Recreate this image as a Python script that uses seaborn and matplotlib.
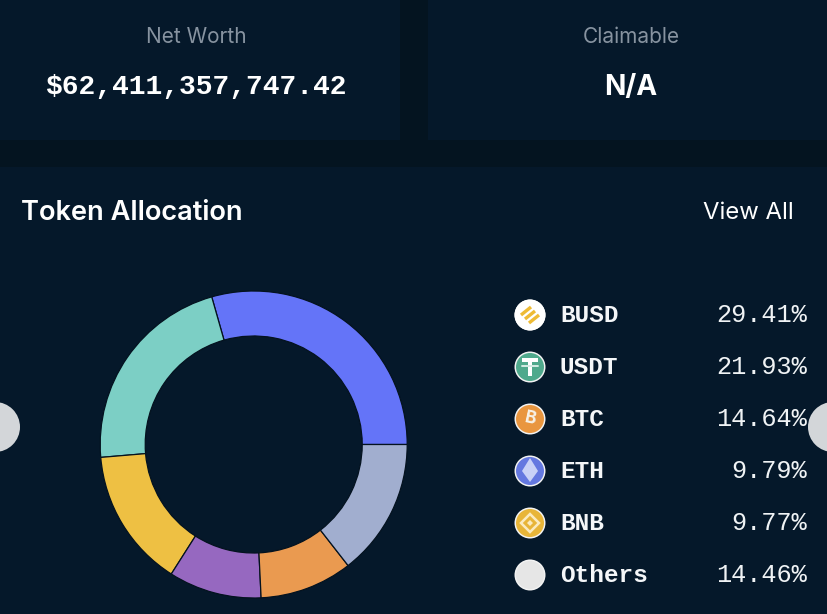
import matplotlib
matplotlib.use("Agg")
import matplotlib.pyplot as plt
from matplotlib.patches import Circle, Rectangle, Polygon
import seaborn as sns

tokens = ["BUSD", "USDT", "BTC", "ETH", "BNB", "Others"]
shares = [29.41, 21.93, 14.64, 9.79, 9.77, 14.46]
share_labels = ["29.41%", "21.93%", "14.64%", "9.79%", "9.77%", "14.46%"]
ring_colors = ["#6474F8", "#7CCFC5", "#EEC043", "#9668C0", "#EA9A50", "#A1AECF"]
icon_colors = ["#FFFFFF", "#4FA98C", "#E9963F", "#6478E0", "#E8B538", "#E6E6E6"]
icon_marks = ["", "T", "B", "", "", ""]
card_titles = ["Net Worth", "Claimable"]
card_values = ["$62,411,357,747.42", "N/A"]
section_title = "Token Allocation"
section_link = "View All"

CARD = "#05182A"
GUTTER = "#041420"
W, H = 828, 614

sns.set_theme(style="white")
plt.rcParams["font.family"] = ["Inter", "DejaVu Sans"]
MONO = ["Liberation Mono", "DejaVu Sans Mono"]

fig = plt.figure(figsize=(W / 100, H / 100), dpi=100, facecolor=GUTTER)
bg = fig.add_axes([0, 0, 1, 1])
bg.set_xlim(0, W)
bg.set_ylim(H, 0)
bg.axis("off")

bg.add_patch(Rectangle((0, 0), 400, 140, color=CARD, lw=0))
bg.add_patch(Rectangle((428, 0), 400, 140, color=CARD, lw=0))
bg.add_patch(Rectangle((0, 167), 828, 447, color=CARD, lw=0))

for cx, title, value in zip([196, 631], card_titles, card_values):
    bg.text(cx, 37, title, color="#8793A0", fontsize=15, ha="center", va="center")
    bg.text(cx, 87, value, color="#FFFFFF", fontsize=20.2, ha="center", va="center",
            family=MONO if value.startswith("$") else ["Inter", "DejaVu Sans"], fontweight="bold")

bg.text(21, 213, section_title, color="#FFFFFF", fontsize=19.6, fontweight="semibold", ha="left", va="center")
bg.text(794, 213, section_link, color="#FFFFFF", fontsize=17.2, ha="right", va="center")

# side carousel buttons
bg.add_patch(Circle((-5, 427), 25, color="#D3D6D9", lw=0))
bg.add_patch(Circle((833, 427), 25, color="#D3D6D9", lw=0))

# donut
ring = fig.add_axes([(253.7 - 160) / W, 1 - (444.5 + 160) / H, 320 / W, 320 / H])
ring.pie(shares, colors=ring_colors, startangle=0, counterclock=True, radius=153.5 / 160,
         wedgeprops=dict(width=45 / 160, edgecolor="#04121F", linewidth=0.9))
ring.set_xlim(-1, 1)
ring.set_ylim(-1, 1)
ring.set_aspect("equal")
ring.patch.set_alpha(0)

# legend rows
row_y = [315, 367, 419, 471, 523, 575]
for i, (tok, lab, y) in enumerate(zip(tokens, share_labels, row_y)):
    bg.add_patch(Circle((530, y), 15.5, color="#F2F2F2", lw=0))
    bg.add_patch(Circle((530, y), 14 if i else 15.5, color=icon_colors[i], lw=0))
    if i == 0:
        for dx, dy in ((-4, -3), (0, 1), (4, 5)):
            bg.plot([530 + dx - 5, 530 + dx + 5], [y + dy + 3, y + dy - 5], color="#EEBB35", lw=2.4,
                    solid_capstyle="butt")
    elif tok == "USDT":
        bg.add_patch(Rectangle((522, y - 9), 16, 3.5, color="#FFFFFF", lw=0))
        bg.add_patch(Rectangle((528.3, y - 8), 3.4, 17, color="#FFFFFF", lw=0))
        bg.plot([522, 538], [y - 1, y - 1], color="#D5EDE5", lw=1.4)
    elif icon_marks[i]:
        bg.text(530, y, icon_marks[i], color="#F7F2E8", fontsize=12.5, fontweight="bold", ha="center", va="center",
                rotation=-12)
    elif tok == "ETH":
        bg.add_patch(Polygon([(530, y - 13), (538, y), (530, y + 11), (522, y)], color="#C9D2F7", lw=0))
    elif tok == "BNB":
        bg.add_patch(Polygon([(530, y - 9), (539, y), (530, y + 9), (521, y)], fill=False, ec="#FBEBC0", lw=1.8))
        bg.add_patch(Polygon([(530, y - 3), (533, y), (530, y + 3), (527, y)], color="#FBEBC0", lw=0))
    bg.text(560, y, tok, color="#F4F6F8", fontsize=17.6, family=MONO, fontweight="bold", ha="left", va="center")
    bg.text(807, y, lab, color="#F0F3F5", fontsize=18.2, family=MONO, ha="right", va="center")

fig.savefig("out.png", dpi=100, facecolor=GUTTER)
